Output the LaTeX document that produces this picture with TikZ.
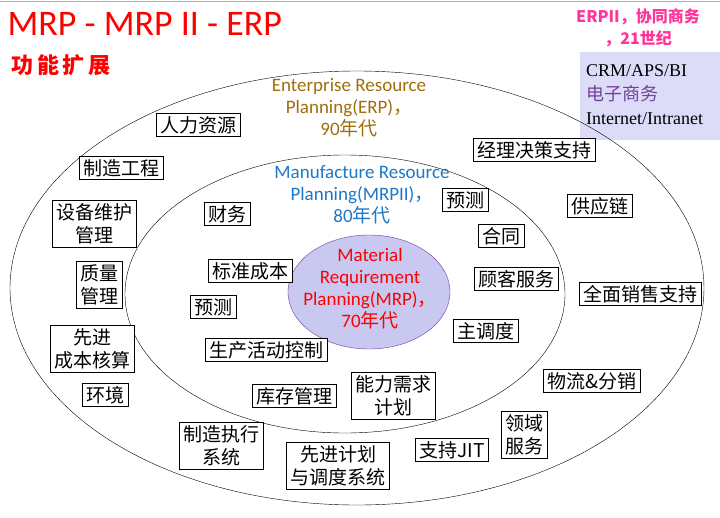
\documentclass[tikz,border=0pt]{standalone}
\usepackage{fontspec}
\setmainfont{Liberation Serif}
\newfontfamily\cjk{Noto Sans CJK SC}
\newfontfamily\lbl{Carlito}
\begin{document}
\begin{tikzpicture}[x=1pt,y=-1pt,
  bx/.style={draw,thick,fill=white,inner xsep=4pt,inner ysep=3pt,align=center,font=\cjk\fontsize{19}{23}\selectfont},
  lab/.style={align=center,font=\lbl\fontsize{19}{22}\selectfont}]
\useasboundingbox (0,0) rectangle (720,517);
\fill[white] (0,0) rectangle (720,517);
\draw[gray!60,thick] (0,1) -- (720,1);
\node[font=\lbl\fontsize{36}{38}\selectfont,text=red,anchor=west] (title) at (4,24) {MRP - MRP II - ERP};
\node[font=\cjk\bfseries\fontsize{22}{24}\selectfont,text=red,anchor=west] (sub) at (8,65) {功\,能\,扩\,展};
\node[align=center,text={rgb,255:red,255;green,51;blue,153},font=\cjk\bfseries\fontsize{16}{22}\selectfont] (erp2) at (638,28) {ERPII，协同商务\\，21世纪};
\fill[fill={rgb,255:red,220;green,220;blue,248}] (580,52) rectangle (720,140);
\node[anchor=north west,align=left,font=\fontsize{18}{24}\selectfont,inner sep=2pt] (crm) at (584,62) {CRM/APS/BI\\{\cjk\color[rgb]{0.45,0.25,0.6}电子商务}\\Internet/Intranet};
\draw (357,288) ellipse [x radius=347,y radius=217];
\draw (345,294) ellipse [x radius=220,y radius=139];
\draw[draw={rgb,255:red,110;green,60;blue,160},fill={rgb,255:red,200;green,200;blue,240}] (369,292) ellipse [x radius=81,y radius=57];
\node[lab,text={rgb,255:red,160;green,110;blue,10}] (erp) at (349,108) {Enterprise Resource\\Planning(ERP){\cjk ，}\\90{\cjk 年代}};
\node[lab,text={rgb,255:red,30;green,120;blue,200}] (mrp2) at (362,195) {Manufacture Resource\\Planning(MRPII){\cjk ，}\\80{\cjk 年代}};
\node[lab,text=red] (mrp) at (370,289) {Material\\Requirement\\Planning(MRP){\cjk ，}\\70{\cjk 年代}};
\node[bx] (a1) at (198,125) {人力资源};
\node[bx] (a2) at (121,168) {制造工程};
\node[bx] (a3) at (94,224) {设备维护\\管理};
\node[bx] (a4) at (99,285) {质量\\管理};
\node[bx] (a5) at (92,349) {先进\\成本核算};
\node[bx] (a6) at (105,395) {环境};
\node[bx] (b1) at (227,214) {财务};
\node[bx] (b2) at (250,271) {标准成本};
\node[bx] (b3) at (213,307) {预测};
\node[bx] (b4) at (266,350) {生产活动控制};
\node[bx] (b5) at (294,396) {库存管理};
\node[bx] (b6) at (393,396) {能力需求\\计划};
\node[bx] (c1) at (221,446) {制造执行\\系统};
\node[bx] (c2) at (338,466) {先进计划\\与调度系统};
\node[bx] (c3) at (452,450) {支持JIT};
\node[bx] (c4) at (524,435) {领域\\服务};
\node[bx] (c5) at (592,381) {物流\&分销};
\node[bx] (b7) at (486,331) {主调度};
\node[bx] (c6) at (640,294) {全面销售支持};
\node[bx] (b8) at (516,279) {顾客服务};
\node[bx] (b9) at (501,236) {合同};
\node[bx] (b10) at (465,200) {预测};
\node[bx] (c7) at (600,206) {供应链};
\node[bx] (c8) at (534,150) {经理决策支持};
\end{tikzpicture}
\end{document}
